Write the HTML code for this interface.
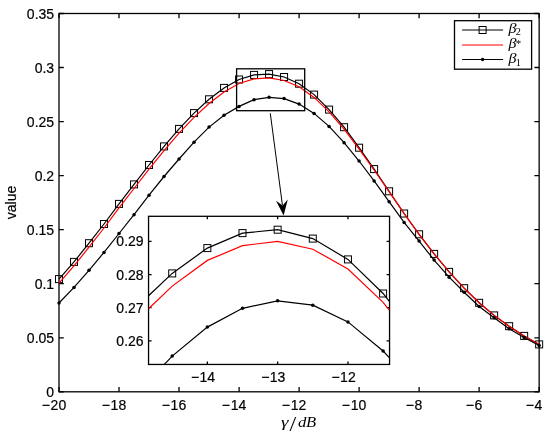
<!DOCTYPE html><html><head><meta charset="utf-8"><style>html,body{margin:0;padding:0;background:#fff;}svg{display:block;}.t{font-family:"Liberation Sans",Arial,Helvetica,sans-serif;font-size:14px;fill:#000;stroke:#000;stroke-width:0.2px;}.m{font-family:"Liberation Serif","Times New Roman",serif;font-style:italic;fill:#000;}</style></head><body>
<svg width="550" height="439" viewBox="0 0 550 439">
<rect width="550" height="439" fill="#fff"/>
<g fill="none" stroke="#000" stroke-width="1.30">
<rect x="59.00" y="13.50" width="480.15" height="378.30"/>
<path d="M59.0 391.8V387.0M59.0 13.5V18.3"/>
<path d="M119.0 391.8V387.0M119.0 13.5V18.3"/>
<path d="M179.0 391.8V387.0M179.0 13.5V18.3"/>
<path d="M239.1 391.8V387.0M239.1 13.5V18.3"/>
<path d="M299.1 391.8V387.0M299.1 13.5V18.3"/>
<path d="M359.1 391.8V387.0M359.1 13.5V18.3"/>
<path d="M419.1 391.8V387.0M419.1 13.5V18.3"/>
<path d="M479.1 391.8V387.0M479.1 13.5V18.3"/>
<path d="M539.1 391.8V387.0M539.1 13.5V18.3"/>
<path d="M59.0 391.8H63.8M539.1 391.8H534.4"/>
<path d="M59.0 337.8H63.8M539.1 337.8H534.4"/>
<path d="M59.0 283.7H63.8M539.1 283.7H534.4"/>
<path d="M59.0 229.7H63.8M539.1 229.7H534.4"/>
<path d="M59.0 175.6H63.8M539.1 175.6H534.4"/>
<path d="M59.0 121.6H63.8M539.1 121.6H534.4"/>
<path d="M59.0 67.5H63.8M539.1 67.5H534.4"/>
<path d="M59.0 13.5H63.8M539.1 13.5H534.4"/>
</g>
<text class="t" x="54.1" y="396.8" text-anchor="end">0</text>
<text class="t" x="54.1" y="342.8" text-anchor="end">0.05</text>
<text class="t" x="54.1" y="288.7" text-anchor="end">0.1</text>
<text class="t" x="54.1" y="234.7" text-anchor="end">0.15</text>
<text class="t" x="54.1" y="180.6" text-anchor="end">0.2</text>
<text class="t" x="54.1" y="126.6" text-anchor="end">0.25</text>
<text class="t" x="54.1" y="72.5" text-anchor="end">0.3</text>
<text class="t" x="54.1" y="18.5" text-anchor="end">0.35</text>
<text class="t" x="58.4" y="409.6" text-anchor="middle">20</text>
<text class="t" x="49.9" y="409.6" text-anchor="end">&#8722;</text>
<text class="t" x="118.4" y="409.6" text-anchor="middle">18</text>
<text class="t" x="109.9" y="409.6" text-anchor="end">&#8722;</text>
<text class="t" x="178.4" y="409.6" text-anchor="middle">16</text>
<text class="t" x="170.0" y="409.6" text-anchor="end">&#8722;</text>
<text class="t" x="238.5" y="409.6" text-anchor="middle">14</text>
<text class="t" x="230.0" y="409.6" text-anchor="end">&#8722;</text>
<text class="t" x="298.5" y="409.6" text-anchor="middle">12</text>
<text class="t" x="290.0" y="409.6" text-anchor="end">&#8722;</text>
<text class="t" x="358.5" y="409.6" text-anchor="middle">10</text>
<text class="t" x="350.0" y="409.6" text-anchor="end">&#8722;</text>
<text class="t" x="418.5" y="409.6" text-anchor="middle">8</text>
<text class="t" x="413.9" y="409.6" text-anchor="end">&#8722;</text>
<text class="t" x="478.5" y="409.6" text-anchor="middle">6</text>
<text class="t" x="473.9" y="409.6" text-anchor="end">&#8722;</text>
<text class="t" x="538.5" y="409.6" text-anchor="middle">4</text>
<text class="t" x="534.0" y="409.6" text-anchor="end">&#8722;</text>
<text class="t" transform="translate(16,202.5) rotate(-90)" text-anchor="middle">value</text>
<text class="m" transform="translate(281.1,427.2) scale(1.27,1)" font-size="15">&#947;</text>
<text class="m" transform="translate(289.5,431.0) scale(1.15,1)" font-size="21" style="font-style:normal">/</text>
<text class="m" transform="translate(298.0,427.2) scale(1.2,1)" font-size="14">d</text>
<text class="m" transform="translate(306.1,427.2) scale(1.17,1)" font-size="14.2">B</text>
<polyline fill="none" stroke="#000" stroke-width="1.20" points="59.00,279.10 74.00,261.90 89.01,243.20 104.01,224.00 119.02,203.90 134.02,184.40 149.03,165.00 164.03,146.40 179.04,128.90 194.04,113.10 209.05,99.30 224.05,87.90 239.06,79.50 254.06,74.90 269.07,74.10 284.07,77.00 299.08,83.70 314.08,94.60 329.08,109.60 344.09,127.20 359.09,147.70 374.10,169.10 389.10,191.30 404.11,213.50 419.11,234.30 434.12,253.90 449.12,271.90 464.13,288.20 479.13,302.80 494.14,315.40 509.14,326.20 524.15,335.90 539.15,344.40"/>
<g fill="none" stroke="#000" stroke-width="1">
<rect x="55.50" y="275.60" width="7.0" height="7.0"/>
<rect x="70.50" y="258.40" width="7.0" height="7.0"/>
<rect x="85.51" y="239.70" width="7.0" height="7.0"/>
<rect x="100.51" y="220.50" width="7.0" height="7.0"/>
<rect x="115.52" y="200.40" width="7.0" height="7.0"/>
<rect x="130.52" y="180.90" width="7.0" height="7.0"/>
<rect x="145.53" y="161.50" width="7.0" height="7.0"/>
<rect x="160.53" y="142.90" width="7.0" height="7.0"/>
<rect x="175.54" y="125.40" width="7.0" height="7.0"/>
<rect x="190.54" y="109.60" width="7.0" height="7.0"/>
<rect x="205.55" y="95.80" width="7.0" height="7.0"/>
<rect x="220.55" y="84.40" width="7.0" height="7.0"/>
<rect x="235.56" y="76.00" width="7.0" height="7.0"/>
<rect x="250.56" y="71.40" width="7.0" height="7.0"/>
<rect x="265.57" y="70.60" width="7.0" height="7.0"/>
<rect x="280.57" y="73.50" width="7.0" height="7.0"/>
<rect x="295.58" y="80.20" width="7.0" height="7.0"/>
<rect x="310.58" y="91.10" width="7.0" height="7.0"/>
<rect x="325.58" y="106.10" width="7.0" height="7.0"/>
<rect x="340.59" y="123.70" width="7.0" height="7.0"/>
<rect x="355.59" y="144.20" width="7.0" height="7.0"/>
<rect x="370.60" y="165.60" width="7.0" height="7.0"/>
<rect x="385.60" y="187.80" width="7.0" height="7.0"/>
<rect x="400.61" y="210.00" width="7.0" height="7.0"/>
<rect x="415.61" y="230.80" width="7.0" height="7.0"/>
<rect x="430.62" y="250.40" width="7.0" height="7.0"/>
<rect x="445.62" y="268.40" width="7.0" height="7.0"/>
<rect x="460.63" y="284.70" width="7.0" height="7.0"/>
<rect x="475.63" y="299.30" width="7.0" height="7.0"/>
<rect x="490.64" y="311.90" width="7.0" height="7.0"/>
<rect x="505.64" y="322.70" width="7.0" height="7.0"/>
<rect x="520.65" y="332.40" width="7.0" height="7.0"/>
<rect x="535.65" y="340.90" width="7.0" height="7.0"/>
</g>
<polyline fill="none" stroke="#f00" stroke-width="1.20" points="59.00,283.10 74.00,265.90 89.01,247.20 104.01,228.00 119.02,207.90 134.02,188.50 149.03,169.20 164.03,150.70 179.04,133.20 194.04,117.40 209.05,103.50 224.05,92.00 239.06,83.50 254.06,78.90 269.07,77.90 284.07,80.50 299.08,86.80 314.08,97.40 329.08,111.90 344.09,129.10 359.09,149.20 374.10,170.00 389.10,191.70 404.11,213.70 419.11,234.30 434.12,253.90 449.12,271.90 464.13,288.20 479.13,302.80 494.14,315.40 509.14,326.20 524.15,335.90 539.15,344.40"/>
<polyline fill="none" stroke="#000" stroke-width="1.20" points="59.00,303.00 74.00,287.40 89.01,270.30 104.01,252.40 119.02,233.50 134.02,214.70 149.03,195.20 164.03,176.50 179.04,159.00 194.04,142.20 209.05,127.10 224.05,115.20 239.06,106.40 254.06,99.70 269.07,97.30 284.07,98.60 299.08,104.10 314.08,113.40 329.08,126.40 344.09,142.70 359.09,161.00 374.10,180.90 389.10,201.70 404.11,222.40 419.11,241.10 434.12,260.10 449.12,277.20 464.13,292.20 479.13,306.50 494.14,317.80 509.14,328.80 524.15,337.60 539.15,345.50"/>
<g fill="#000">
<circle cx="59.00" cy="303.00" r="1.75"/>
<circle cx="74.00" cy="287.40" r="1.75"/>
<circle cx="89.01" cy="270.30" r="1.75"/>
<circle cx="104.01" cy="252.40" r="1.75"/>
<circle cx="119.02" cy="233.50" r="1.75"/>
<circle cx="134.02" cy="214.70" r="1.75"/>
<circle cx="149.03" cy="195.20" r="1.75"/>
<circle cx="164.03" cy="176.50" r="1.75"/>
<circle cx="179.04" cy="159.00" r="1.75"/>
<circle cx="194.04" cy="142.20" r="1.75"/>
<circle cx="209.05" cy="127.10" r="1.75"/>
<circle cx="224.05" cy="115.20" r="1.75"/>
<circle cx="239.06" cy="106.40" r="1.75"/>
<circle cx="254.06" cy="99.70" r="1.75"/>
<circle cx="269.07" cy="97.30" r="1.75"/>
<circle cx="284.07" cy="98.60" r="1.75"/>
<circle cx="299.08" cy="104.10" r="1.75"/>
<circle cx="314.08" cy="113.40" r="1.75"/>
<circle cx="329.08" cy="126.40" r="1.75"/>
<circle cx="344.09" cy="142.70" r="1.75"/>
<circle cx="359.09" cy="161.00" r="1.75"/>
<circle cx="374.10" cy="180.90" r="1.75"/>
<circle cx="389.10" cy="201.70" r="1.75"/>
<circle cx="404.11" cy="222.40" r="1.75"/>
<circle cx="419.11" cy="241.10" r="1.75"/>
<circle cx="434.12" cy="260.10" r="1.75"/>
<circle cx="449.12" cy="277.20" r="1.75"/>
<circle cx="464.13" cy="292.20" r="1.75"/>
<circle cx="479.13" cy="306.50" r="1.75"/>
<circle cx="494.14" cy="317.80" r="1.75"/>
<circle cx="509.14" cy="328.80" r="1.75"/>
<circle cx="524.15" cy="337.60" r="1.75"/>
<circle cx="539.15" cy="345.50" r="1.75"/>
</g>
<rect x="236.6" y="68.8" width="68.1" height="41.9" fill="none" stroke="#000" stroke-width="1.30"/>
<line x1="270.3" y1="113.3" x2="282.4" y2="205" stroke="#000" stroke-width="1"/>
<path d="M283.6 215.6 L276.0 200.8 L282.6 205.4 L287.8 199.4 Z" fill="#000"/>
<rect x="454.5" y="20.7" width="77.1" height="48.5" fill="#fff" stroke="#000" stroke-width="1.30"/>
<path d="M462.1 30H503.1" stroke="#000" stroke-width="1.20"/>
<rect x="479.10" y="26.50" width="7.0" height="7.0" fill="none" stroke="#000" stroke-width="1"/>
<path d="M462.1 45H503.1" stroke="#f00" stroke-width="1.20"/>
<path d="M462.1 59.5H503.1" stroke="#000" stroke-width="1.20"/>
<circle cx="482.6" cy="59.5" r="1.75" fill="#000"/>
<g transform="translate(508.4,33.00) scale(1.08,1)"><text class="m" x="0" y="0" font-size="14.8">&#946;</text>
<text x="6.9" y="2.4" font-size="9.5" font-family="Liberation Serif, serif">2</text></g>
<g transform="translate(508.4,48.40) scale(1.08,1)"><text class="m" x="0" y="0" font-size="14.8">&#946;</text>
<text x="6.9" y="-1.6" font-size="10" font-family="Liberation Serif, serif">*</text></g>
<g transform="translate(508.4,63.30) scale(1.08,1)"><text class="m" x="0" y="0" font-size="14.8">&#946;</text>
<text x="6.9" y="2.4" font-size="9.5" font-family="Liberation Serif, serif">1</text></g>
<rect x="148.55" y="216.30" width="241.00" height="148.15" fill="#fff" stroke="none"/>
<defs><clipPath id="ic"><rect x="148.55" y="216.30" width="241.00" height="148.15"/></clipPath></defs>
<g fill="none" stroke="#000" stroke-width="1.30">
<rect x="148.55" y="216.30" width="241.00" height="148.15"/>
<path d="M207.35 364.4V361.4M207.35 216.3V219.3"/>
<path d="M277.65 364.4V361.4M277.65 216.3V219.3"/>
<path d="M347.95 364.4V361.4M347.95 216.3V219.3"/>
<path d="M148.6 241.35H151.6M389.6 241.35H386.6"/>
<path d="M148.6 274.53H151.6M389.6 274.53H386.6"/>
<path d="M148.6 307.71H151.6M389.6 307.71H386.6"/>
<path d="M148.6 340.89H151.6M389.6 340.89H386.6"/>
</g>
<g clip-path="url(#ic)">
<polyline fill="none" stroke="#000" stroke-width="1.20" points="148.55,295.80 172.20,273.40 207.35,248.10 242.50,233.10 277.65,229.70 312.80,238.60 347.95,259.40 383.10,293.50 389.55,301.70"/>
<g fill="none" stroke="#000" stroke-width="1">
<rect x="168.70" y="269.90" width="7.0" height="7.0"/>
<rect x="203.85" y="244.60" width="7.0" height="7.0"/>
<rect x="239.00" y="229.60" width="7.0" height="7.0"/>
<rect x="274.15" y="226.20" width="7.0" height="7.0"/>
<rect x="309.30" y="235.10" width="7.0" height="7.0"/>
<rect x="344.45" y="255.90" width="7.0" height="7.0"/>
<rect x="379.60" y="290.00" width="7.0" height="7.0"/>
</g>
<polyline fill="none" stroke="#f00" stroke-width="1.20" points="148.55,308.70 172.20,286.10 207.35,260.40 242.50,245.70 277.65,241.30 312.80,249.20 347.95,269.00 383.10,302.30 389.55,310.30"/>
<polyline fill="none" stroke="#000" stroke-width="1.20" points="164.40,364.45 172.20,356.10 207.35,327.10 242.50,308.30 277.65,300.80 312.80,305.20 347.95,321.90 383.10,351.00 389.55,357.80"/>
<g fill="#000">
<circle cx="172.20" cy="356.10" r="1.75"/>
<circle cx="207.35" cy="327.10" r="1.75"/>
<circle cx="242.50" cy="308.30" r="1.75"/>
<circle cx="277.65" cy="300.80" r="1.75"/>
<circle cx="312.80" cy="305.20" r="1.75"/>
<circle cx="347.95" cy="321.90" r="1.75"/>
<circle cx="383.10" cy="351.00" r="1.75"/>
</g></g>
<text class="t" x="143.6" y="246.3" text-anchor="end">0.29</text>
<text class="t" x="143.6" y="279.5" text-anchor="end">0.28</text>
<text class="t" x="143.6" y="312.7" text-anchor="end">0.27</text>
<text class="t" x="143.6" y="345.9" text-anchor="end">0.26</text>
<text class="t" x="207.3" y="381.9" text-anchor="middle">14</text>
<text class="t" x="199.1" y="381.9" text-anchor="end">&#8722;</text>
<text class="t" x="277.6" y="381.9" text-anchor="middle">13</text>
<text class="t" x="269.4" y="381.9" text-anchor="end">&#8722;</text>
<text class="t" x="347.9" y="381.9" text-anchor="middle">12</text>
<text class="t" x="339.7" y="381.9" text-anchor="end">&#8722;</text>
</svg></body></html>
